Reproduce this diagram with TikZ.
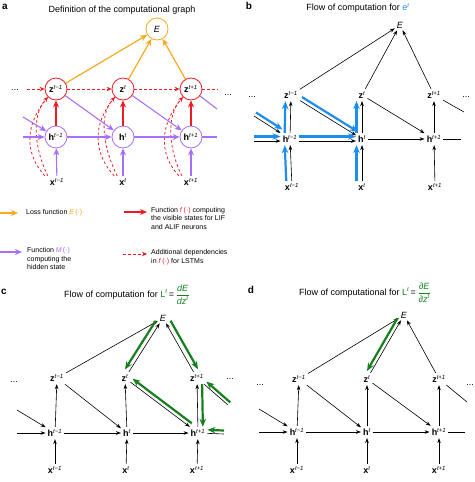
\documentclass[tikz,border=0pt]{standalone}
\usepackage{amsmath}
\usepackage{fontspec}
\setmainfont{Liberation Sans}
\usepackage{tikz}
\usetikzlibrary{arrows.meta}
\usepackage{xcolor}
\definecolor{lossc}{RGB}{246,170,30}
\definecolor{visc}{RGB}{236,28,36}
\definecolor{hidc}{RGB}{168,112,246}
\definecolor{flowb}{RGB}{28,142,240}
\definecolor{flowg}{RGB}{22,128,30}
\newcommand{\vlab}[2]{\textbf{#1}\textsuperscript{\itshape #2}}

\begin{document}
\begin{tikzpicture}[x=1pt,y=-1pt,>={Stealth[length=5pt,width=3.6pt]},
  lbl/.style={inner sep=2pt,font=\fontsize{9}{10}\selectfont},
  ring/.style={circle,draw,line width=0.8pt,minimum size=22pt,inner sep=0pt,font=\fontsize{9}{10}\selectfont},
  ttl/.style={font=\fontsize{9}{11}\selectfont},
  tag/.style={font=\fontsize{10}{12}\selectfont\bfseries},
  leg/.style={font=\fontsize{7}{8.6}\selectfont,align=left,anchor=north west,inner sep=0pt},
  lossar/.style={lossc,line width=1.2pt,-{Stealth[length=7pt,width=6pt]}},
  visar/.style={visc,line width=1.8pt,-{Stealth[length=7pt,width=6pt]}},
  hidar/.style={hidc,line width=1.1pt,-{Stealth[length=7pt,width=6pt]}},
  lstm/.style={visc,line width=0.8pt,dash pattern=on 2.5pt off 2.5pt,-{Stealth[length=5pt,width=4.5pt]}},
  ed/.style={line width=0.6pt,->},
  flw/.style={line width=2.2pt,-{Stealth[length=8pt,width=6.5pt]}},
  sh/.style={transform canvas={shift={#1}}}]
\useasboundingbox (0,0) rectangle (474,482);

% a: the graph
\node[tag] (taga) at (5,7) {a};
\node[ttl] (titlea) at (122,10) {Definition of the computational graph};
\node[ring,draw=lossc] (aE) at (157,29) {\textit{E}};
\node[ring,draw=visc] (az1) at (56,89) {\vlab{z}{t−1}};
\node[ring,draw=visc] (az2) at (123,89) {\vlab{z}{t}};
\node[ring,draw=visc] (az3) at (191,89) {\vlab{z}{t+1}};
\node[ring,draw=hidc] (ah1) at (56,137) {\vlab{h}{t−1}};
\node[ring,draw=hidc] (ah2) at (123,137) {\vlab{h}{t}};
\node[ring,draw=hidc] (ah3) at (191,137) {\vlab{h}{t+1}};
\node[lbl] (ax1) at (57,182) {\vlab{x}{t−1}};
\node[lbl] (ax2) at (123,182) {\vlab{x}{t}};
\node[lbl] (ax3) at (191,182) {\vlab{x}{t+1}};
\node[lbl] (adl) at (15,90) {...};
\node[lbl] (adr) at (228,95) {...};
\coordinate (aLz) at (27,89);
\coordinate (aRz) at (218,89);
\coordinate (aLd) at (23,117);
\coordinate (aLh) at (23,137);
\coordinate (aRd) at (217,109);
\coordinate (aRh) at (217,137);

\foreach \i in {1,2,3} {
  \draw[lstm] (ax\i.north west) .. controls +(-12,-24) and +(-18,20) .. (az\i.south west);
  \draw[lstm,-] ([xshift=-3pt]ax\i.north west) .. controls +(-20,-22) and +(-24,28) .. (az\i.south west);
}
\draw[lstm] (aLz) -- (az1);
\draw[lstm] (az1) -- (az2);
\draw[lstm] (az2) -- (az3);
\draw[lstm,-] (az3) -- (aRz);
\foreach \i in {1,2,3} {
  \draw[lossar] (az\i) -- (aE);
  \draw[visar] (ah\i) -- (az\i);
  \draw[hidar] (ax\i) -- (ah\i);
}
\draw[hidar] (ah1) -- (ah2);
\draw[hidar] (ah2) -- (ah3);
\draw[hidar] (az1) -- (ah2);
\draw[hidar] (az2) -- (ah3);
\draw[hidar] (aLd) -- (ah1);
\draw[hidar] (aLh) -- (ah1);
\draw[hidar,-] (az3) -- (aRd);
\draw[hidar,-] (ah3) -- (aRh);

% legend
\coordinate (lg1) at (0,213);
\coordinate (lg2) at (124,212);
\coordinate (lg3) at (0,252);
\coordinate (lg4) at (123,254);
\node[leg,anchor=west] (lt1) at (26,213) {Loss function {\color{lossc}\textit{E}\,(·)}};
\node[leg] (lt2) at (151,207) {Function {\color{visc}\textit{f}\,(·)} computing\\the visible states for LIF\\and ALIF neurons};
\node[leg] (lt3) at (27,247.5) {Function {\color{hidc}\textit{M}\,(·)}\\computing the\\hidden state};
\node[leg] (lt4) at (151,249.5) {Additional dependencies\\in {\color{visc}\textit{f}\,(·)} for LSTMs};
\draw[lossar,shorten >=8pt] (lg1) -- (lt1.west);
\draw[visar,shorten >=4pt] (lg2) -- (lg2 -| lt2.west);
\draw[hidar,shorten >=5pt] (lg3) -- (lg3 -| lt3.west);
\draw[lstm,shorten >=4pt] (lg4) -- (lg4 -| lt4.west);

% b: flow for e^t
\node[tag] (tagb) at (249,6) {b};
\node[ttl] (titleb) at (358,8) {Flow of computation for {\color{flowb}e\textsuperscript{\itshape t}}};
\node[lbl] (bE) at (400,25) {\textit{E}};
\node[lbl] (bz1) at (291,95) {\vlab{z}{t−1}};
\node[lbl] (bz2) at (362,95) {\vlab{z}{t}};
\node[lbl] (bz3) at (434,95) {\vlab{z}{t+1}};
\node[lbl] (bh1) at (290,139) {\vlab{h}{t−1}};
\node[lbl] (bh2) at (362,139) {\vlab{h}{t}};
\node[lbl] (bh3) at (434,139) {\vlab{h}{t+1}};
\node[lbl] (bx1) at (292,187) {\vlab{x}{t−1}};
\node[lbl] (bx2) at (362,187) {\vlab{x}{t}};
\node[lbl] (bx3) at (435,187) {\vlab{x}{t+1}};
\node[lbl] (bdl) at (252,97) {...};
\node[lbl] (bdr) at (466,97) {...};
\coordinate (bLd) at (254,116);
\coordinate (bLh) at (254,139);
\coordinate (bRd) at (464,112);
\coordinate (bRh) at (461,139);

\foreach \i in {1,2,3} {
  \draw[ed] (bz\i) -- (bE);
  \draw[ed] (bh\i) -- (bz\i);
  \draw[ed] (bx\i) -- (bh\i);
}
\draw[ed,sh={(0pt,-2pt)}] (bh1) -- (bh2);
\draw[ed,sh={(0pt,-2pt)}] (bLh) -- (bh1);
\draw[ed] (bh2) -- (bh3);
\draw[ed] (bz1) -- (bh2);
\draw[ed] (bz2) -- (bh3);
\draw[ed] (bLd) -- (bh1);
\draw[ed,-] (bz3) -- (bRd);
\draw[ed,-] (bh3) -- (bRh);
\foreach \i in {1,2} {
  \draw[flw,flowb,sh={(-5.5pt,0pt)}] (bh\i) -- (bz\i);
  \draw[flw,flowb,sh={(-5.5pt,0pt)}] (bx\i) -- (bh\i);
}
\draw[flw,flowb,sh={(0pt,2.5pt)}] (bh1) -- (bh2);
\draw[flw,flowb,sh={(0pt,2.5pt)}] (bLh) -- (bh1);
\draw[flw,flowb,sh={(2pt,3.5pt)}] (bz1) -- (bh2);
\draw[flw,flowb,sh={(2pt,3.5pt)}] (bLd) -- (bh1);

% c: flow for dE/dz
\node[tag] (tagc) at (4,292) {c};
\node[ttl] (titlec) at (127,295) {Flow of computation for {\color{flowg}L\textsuperscript{\itshape t}}\,=\,{\color{flowg}$\dfrac{\text{\itshape dE}}{\text{\itshape dz\textsuperscript{t}}}$}};
\node[lbl] (cE) at (163,318) {\textit{E}};
\node[lbl] (cz1) at (57,378) {\vlab{z}{t−1}};
\node[lbl] (cz2) at (125,378) {\vlab{z}{t}};
\node[lbl] (cz3) at (197,378) {\vlab{z}{t+1}};
\node[lbl] (ch1) at (55,433) {\vlab{h}{t−1}};
\node[lbl] (ch2) at (127,433) {\vlab{h}{t}};
\node[lbl] (ch3) at (198,433) {\vlab{h}{t+1}};
\node[lbl] (cx1) at (55,470) {\vlab{x}{t−1}};
\node[lbl] (cx2) at (126,470) {\vlab{x}{t}};
\node[lbl] (cx3) at (197,470) {\vlab{x}{t+1}};
\node[lbl] (cdl) at (14,382) {...};
\node[lbl] (cdr) at (230,379) {...};
\coordinate (cLd) at (17,410);
\coordinate (cLh) at (17,433);
\coordinate (cRd) at (228,405);
\coordinate (cRh) at (224,434);

\foreach \i in {1,2,3} {
  \draw[ed] (cz\i) -- (cE);
  \draw[ed] (ch\i) -- (cz\i);
  \draw[ed] (cx\i) -- (ch\i);
}
\draw[ed] (ch1) -- (ch2);
\draw[ed] (ch2) -- (ch3);
\draw[ed] (cz1) -- (ch2);
\draw[ed] (cz2) -- (ch3);
\draw[ed] (cLd) -- (ch1);
\draw[ed] (cLh) -- (ch1);
\draw[ed,-] (cz3) -- (cRd);
\draw[ed,-] (ch3) -- (cRh);
\draw[flw,flowg,sh={(-3.9pt,2.5pt)}] (cE) -- (cz2);
\draw[flw,flowg,sh={(4.5pt,2.6pt)}] (cE) -- (cz3);
\draw[flw,flowg,sh={(2pt,3.5pt)}] (ch3) -- (cz2);
\draw[flw,flowg,sh={(5pt,0pt)}] (cz3) -- (ch3);
\draw[flw,flowg,sh={(2.3pt,2.6pt)}] (cRd) -- (cz3);
\draw[flw,flowg,sh={(0pt,3.5pt)}] (cRh) -- (ch3);

% d: flow for partial dE/dz
\node[tag] (tagd) at (251,290) {d};
\node[ttl] (titled) at (365,293) {Flow of computational for {\color{flowg}L\textsuperscript{\itshape t}}\,=\,{\color{flowg}$\dfrac{\text{\itshape ∂E}}{\text{\itshape ∂z\textsuperscript{t}}}$}};
\node[lbl] (dE) at (404,315) {\textit{E}};
\node[lbl] (dz1) at (299,379) {\vlab{z}{t−1}};
\node[lbl] (dz2) at (367,379) {\vlab{z}{t}};
\node[lbl] (dz3) at (439,379) {\vlab{z}{t+1}};
\node[lbl] (dh1) at (297,432) {\vlab{h}{t−1}};
\node[lbl] (dh2) at (367,432) {\vlab{h}{t}};
\node[lbl] (dh3) at (439,432) {\vlab{h}{t+1}};
\node[lbl] (dx1) at (297,470) {\vlab{x}{t−1}};
\node[lbl] (dx2) at (367,470) {\vlab{x}{t}};
\node[lbl] (dx3) at (439,470) {\vlab{x}{t+1}};
\node[lbl] (ddl) at (260,385) {...};
\node[lbl] (ddr) at (470,385) {...};
\coordinate (dLd) at (259,409);
\coordinate (dLh) at (259,432);
\coordinate (dRd) at (467,402);
\coordinate (dRh) at (465,432);

\foreach \i in {1,2,3} {
  \draw[ed] (dz\i) -- (dE);
  \draw[ed] (dh\i) -- (dz\i);
  \draw[ed] (dx\i) -- (dh\i);
}
\draw[ed] (dh1) -- (dh2);
\draw[ed] (dh2) -- (dh3);
\draw[ed] (dz1) -- (dh2);
\draw[ed] (dz2) -- (dh3);
\draw[ed] (dLd) -- (dh1);
\draw[ed] (dLh) -- (dh1);
\draw[ed,-] (dz3) -- (dRd);
\draw[ed,-] (dh3) -- (dRh);
\draw[flw,flowg,sh={(-3.5pt,2pt)}] (dE) -- (dz2);
\end{tikzpicture}
\end{document}
